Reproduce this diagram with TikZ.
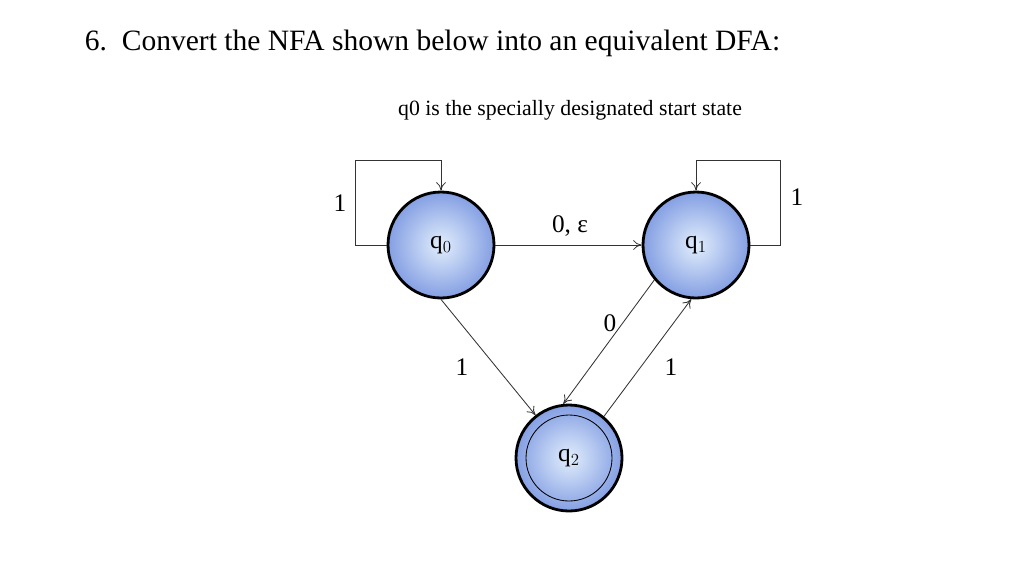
\documentclass[tikz,border=0pt]{standalone}
\usepackage{fontspec}
\setmainfont{Liberation Serif}
\usetikzlibrary{arrows.meta}
\definecolor{stateout}{HTML}{849FE3}
\definecolor{statein}{HTML}{E2EEFC}
\tikzset{
  state/.style={circle, minimum size=106*0.025cm, line width=2pt, draw=black,
    inner color=statein, outer color=stateout, font=\fontsize{18}{20}\selectfont},
  edge/.style={draw=black!80, line width=0.6pt, -{To[length=6pt,width=7pt]}},
  lbl/.style={font=\fontsize{18}{20}\selectfont}
}
\begin{document}
\begin{tikzpicture}[x=0.025cm, y=-0.025cm]
    \useasboundingbox (0,0) rectangle (1030,560);
    % Heading
    \node[anchor=base west, font=\fontsize{21}{24}\selectfont] (title) at (80,50) {6.\ \ Convert the NFA shown below into an equivalent DFA:};
    \node[anchor=base, font=\fontsize{15.5}{18}\selectfont] (sub) at (570,115) {q0 is the specially designated start state};

    % States
    \node[state] (q0) at (441,245) {q$_0$};
    \node[state] (q1) at (696,245) {q$_1$};
    \node[state] (q2) at (569,458) {};
    \draw[black, line width=0.6pt] (q2.center) circle (43*0.025cm);
    \node[lbl] at (q2.center) {q$_2$};

    % Self loops
    \coordinate (l0a) at (355,245);
    \coordinate (l0b) at (355,160);
    \coordinate (l0c) at (441,160);
    \coordinate (l1a) at (780,245);
    \coordinate (l1b) at (780,160);
    \coordinate (l1c) at (696,160);
    \draw[edge] (q0.west) -- (l0a) -- (l0b) -- (l0c) -- (q0.north);
    \draw[edge] (q1.east) -- (l1a) -- (l1b) -- (l1c) -- (q1.north);
    \node[lbl] at (340,203) {1};
    \node[lbl] at (797,197) {1};

    % Transitions
    \draw[edge] (q0.east) -- (q1.west);
    \node[lbl] at (570,226) {0, ε};
    \draw[edge] (q0.south) -- (q2.128);
    \node[lbl] at (462,367) {1};
    \draw[edge] (q1.220) -- (q2.96);
    \node[lbl] at (610,323) {0};
    \draw[edge] (q2.50) -- (q1.265);
    \node[lbl] at (671,367) {1};
\end{tikzpicture}
\end{document}
